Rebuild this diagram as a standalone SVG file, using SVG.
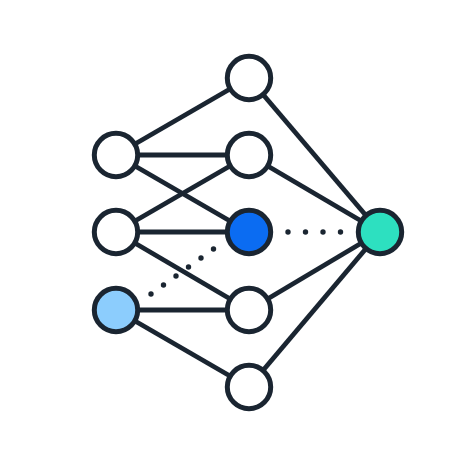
<svg xmlns="http://www.w3.org/2000/svg" width="474" height="474" viewBox="0 0 474 474">
<style>
.n{stroke:#1a2531;stroke-width:5;fill:#fff}
.e{stroke:#1a2531;stroke-width:4.8;fill:none}
.d{fill:#1a2531}
</style>
<rect width="474" height="474" fill="#fff"/>
<g id="edges">
<line class="e" x1="116" y1="155" x2="249" y2="78"/>
<line class="e" x1="116" y1="155" x2="249" y2="155"/>
<line class="e" x1="116" y1="155" x2="249" y2="232"/>
<line class="e" x1="116" y1="232" x2="249" y2="155"/>
<line class="e" x1="116" y1="232" x2="249" y2="232"/>
<line class="e" x1="116" y1="232" x2="249" y2="310"/>
<line class="e" x1="116" y1="310" x2="249" y2="310"/>
<line class="e" x1="116" y1="310" x2="249" y2="387"/>
<line class="e" x1="249" y1="78" x2="380" y2="232"/>
<line class="e" x1="249" y1="155" x2="380" y2="232"/>
<line class="e" x1="249" y1="310" x2="380" y2="232"/>
<line class="e" x1="249" y1="387" x2="380" y2="232"/>
<g id="dots">
<circle class="d" cx="288" cy="232" r="2.7"/>
<circle class="d" cx="305.5" cy="232" r="2.7"/>
<circle class="d" cx="323" cy="232" r="2.7"/>
<circle class="d" cx="340.5" cy="232" r="2.7"/>
<circle class="d" cx="151" cy="294" r="2.7"/>
<circle class="d" cx="163.5" cy="285" r="2.7"/>
<circle class="d" cx="176" cy="276" r="2.7"/>
<circle class="d" cx="188.5" cy="267" r="2.7"/>
<circle class="d" cx="201" cy="258" r="2.7"/>
<circle class="d" cx="213.5" cy="249" r="2.7"/>
</g>
</g>
<g id="l1"><circle class="n" cx="116" cy="155" r="21.7"/></g>
<g id="l2"><circle class="n" cx="116" cy="232" r="21.7"/></g>
<g id="l3"><circle class="n" cx="116" cy="310" r="21.7" style="fill:#8ccdfd"/></g>
<g id="m1"><circle class="n" cx="249" cy="78" r="21.7"/></g>
<g id="m2"><circle class="n" cx="249" cy="155" r="21.7"/></g>
<g id="m3"><circle class="n" cx="249" cy="232" r="21.7" style="fill:#0b6cf2"/></g>
<g id="m4"><circle class="n" cx="249" cy="310" r="21.7"/></g>
<g id="m5"><circle class="n" cx="249" cy="387" r="21.7"/></g>
<g id="r1"><circle class="n" cx="380" cy="232" r="21.7" style="fill:#2de0c0"/></g>
</svg>
